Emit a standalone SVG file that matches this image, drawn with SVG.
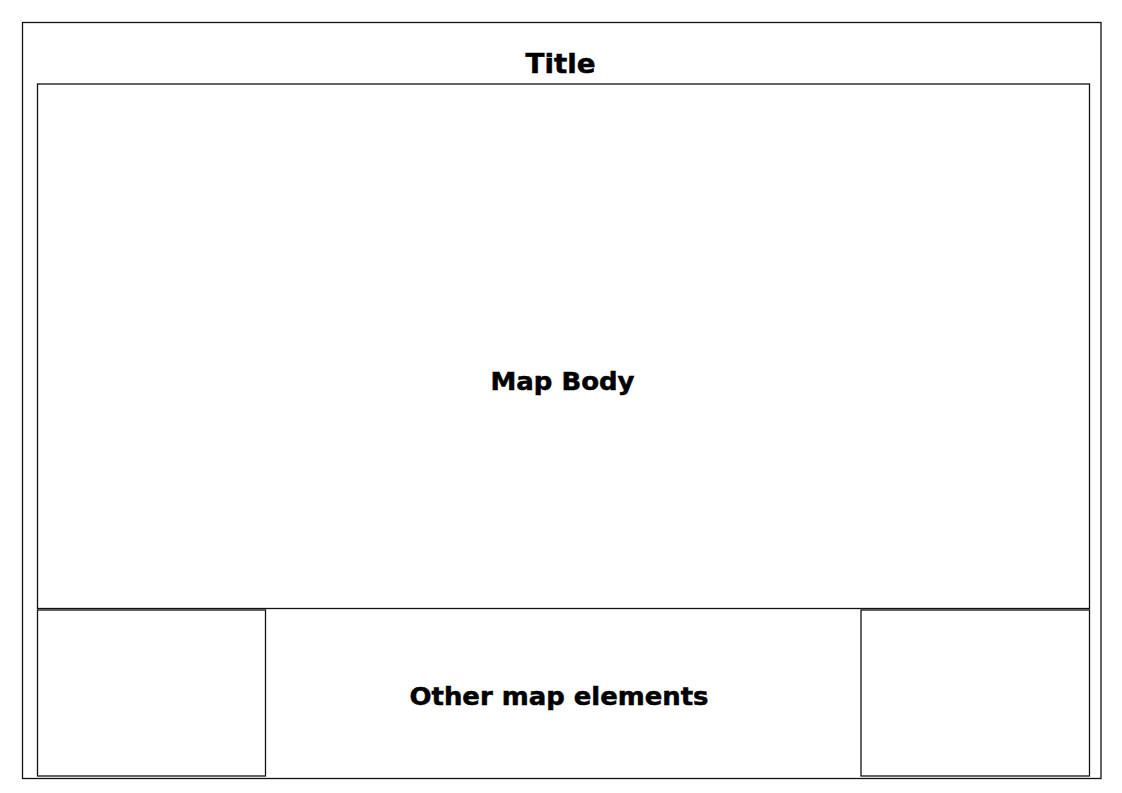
<svg xmlns="http://www.w3.org/2000/svg" width="1122" height="793" viewBox="0 0 1122 793">
<style>
.box{fill:none;stroke:#111;stroke-width:1.3}
.lbl{font-family:"DejaVu Sans","Verdana",sans-serif;font-weight:bold;fill:#000;stroke:#000;stroke-width:0.5;text-anchor:middle}
</style>
<rect x="0" y="0" width="1122" height="793" fill="#fff"/>
<g id="frame"><rect class="box" x="22.5" y="22.5" width="1078.5" height="756"/></g>
<g id="title"><text class="lbl" x="560.5" y="73" font-size="26" textLength="70" lengthAdjust="spacingAndGlyphs">Title</text></g>
<g id="map-body"><rect class="box" x="37.5" y="84" width="1052" height="524.5"/>
<text class="lbl" x="562.5" y="390" font-size="24" textLength="144" lengthAdjust="spacingAndGlyphs">Map Body</text></g>
<g id="left-box"><rect class="box" x="37.5" y="610" width="228" height="166"/></g>
<g id="right-box"><rect class="box" x="861" y="610" width="228.5" height="166"/></g>
<g id="other"><text class="lbl" x="559" y="705" font-size="24" textLength="299" lengthAdjust="spacingAndGlyphs">Other map elements</text></g>
<g id="connectors"/>
</svg>
